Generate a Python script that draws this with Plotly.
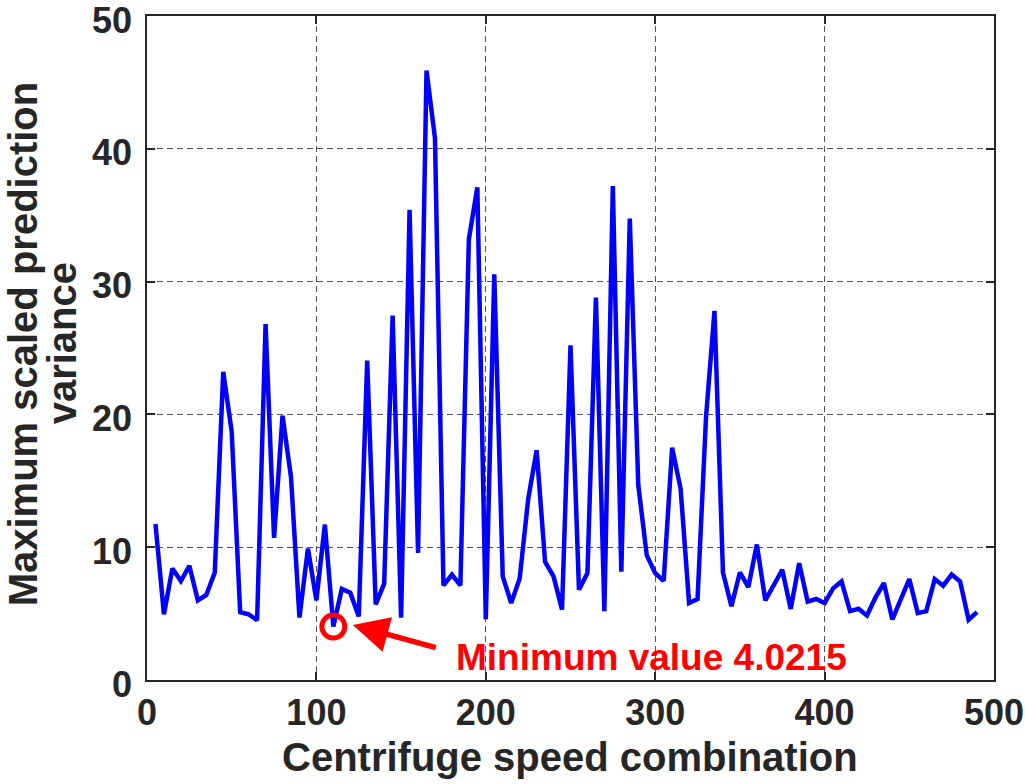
import plotly.graph_objects as go

# Data
combination = [5, 10, 15, 20, 25, 30, 35, 40, 45, 50, 55, 60, 65, 70, 75, 80, 85, 90, 95, 100,
               105, 110, 115, 120, 125, 130, 135, 140, 145, 150, 155, 160, 165, 170, 175, 180, 185, 190, 195, 200,
               205, 210, 215, 220, 225, 230, 235, 240, 245, 250, 255, 260, 265, 270, 275, 280, 285, 290, 295, 300,
               305, 310, 315, 320, 325, 330, 335, 340, 345, 350, 355, 360, 365, 370, 375, 380, 385, 390, 395, 400,
               405, 410, 415, 420, 425, 430, 435, 440, 445, 450, 455, 460, 465, 470, 475, 480, 485, 490]
max_variance = [11.75, 4.95, 8.4, 7.45, 8.6, 6.0, 6.4, 8.1, 23.2, 18.7, 5.1, 4.95, 4.5, 26.8, 10.7, 19.9, 15.3, 4.7, 9.9, 6.0,
                11.7, 4.0215, 6.85, 6.57, 4.78, 24.05, 5.7, 7.25, 27.45, 4.7, 35.4, 9.57, 45.9, 40.8, 7.12, 7.94, 7.12, 33.2, 37.1, 4.57,
                30.55, 7.8, 5.8, 7.64, 13.6, 17.3, 8.9, 7.8, 5.3, 25.2, 6.8, 8.05, 28.8, 5.18, 37.2, 8.15, 34.75, 14.7, 9.4, 8.05,
                7.46, 17.5, 14.4, 5.8, 6.1, 19.8, 27.8, 8.1, 5.56, 8.1, 7.0, 10.2, 6.0, 7.15, 8.3, 5.35, 8.8, 5.9, 6.1, 5.8,
                6.9, 7.42, 5.19, 5.36, 4.86, 6.2, 7.3, 4.56, 6.1, 7.6, 5.04, 5.19, 7.6, 7.1, 7.94, 7.42, 4.54, 5.11]
min_x = [110]
min_y = [4.0215]
min_label = "Minimum value 4.0215"
x_ticks = [0, 100, 200, 300, 400, 500]
y_ticks = [0, 10, 20, 30, 40, 50]
x_title = "Centrifuge speed combination"
y_title_lines = ["Maximum scaled prediction", "variance"]

FONT = "Liberation Sans, Arial, sans-serif"
DARK = "#262626"

fig = go.Figure()
fig.add_trace(go.Scatter(x=combination, y=max_variance, mode="lines",
                         line=dict(color="rgb(0,0,255)", width=4.5), showlegend=False))
fig.add_trace(go.Scatter(x=min_x, y=min_y, mode="markers",
                         marker=dict(symbol="circle-open", size=23, color="rgb(255,0,0)",
                                     line=dict(width=5, color="rgb(255,0,0)")),
                         showlegend=False))

axis_common = dict(
    showline=True, linecolor=DARK, linewidth=1.5, mirror="ticks",
    ticks="inside", ticklen=8, tickwidth=1.5, tickcolor=DARK,
    showgrid=True, gridcolor="rgba(50,50,50,0.85)", gridwidth=1, griddash="6px,4px",
    zeroline=False, ticklabeloverflow="allow", automargin=False,
    tickfont=dict(family=FONT, size=36, color=DARK, weight="bold"),
)

fig.update_xaxes(range=[0, 500], tickvals=x_ticks, ticklabelstandoff=0, **axis_common)
fig.update_yaxes(range=[0, 50], tickvals=y_ticks, ticklabelstandoff=6, ticklabelshift=4,
                 **axis_common)

fig.add_annotation(x=121.5, y=4.14, ax=171.4, ay=2.4, xref="x", yref="y", axref="x", ayref="y",
                   text="", showarrow=True, arrowhead=2, arrowsize=1.3, arrowwidth=5.5,
                   arrowcolor="rgb(255,0,0)")
fig.add_annotation(x=297.8, y=1.73, xref="x", yref="y", text=min_label, showarrow=False,
                   font=dict(family=FONT, size=37, color="rgb(255,0,0)", weight="bold"),
                   xanchor="center", yanchor="middle")
fig.add_annotation(x=0.4994, y=-0.116, xref="paper", yref="paper", text=x_title, showarrow=False,
                   font=dict(family=FONT, size=40, color=DARK, weight="bold"),
                   xanchor="center", yanchor="middle")
for line_text, px_x in zip(y_title_lines, [-0.1464, -0.1004]):
    fig.add_annotation(x=px_x, y=0.507, xref="paper", yref="paper", text=line_text,
                       showarrow=False, textangle=-90,
                       font=dict(family=FONT, size=40, color=DARK, weight="bold"),
                       xanchor="center", yanchor="middle")

fig.update_layout(
    width=1025, height=784,
    margin=dict(l=147, r=31, t=16, b=104, autoexpand=False),
    plot_bgcolor="white", paper_bgcolor="white",
    font=dict(family=FONT, color=DARK),
)

fig.write_html("out.html")
